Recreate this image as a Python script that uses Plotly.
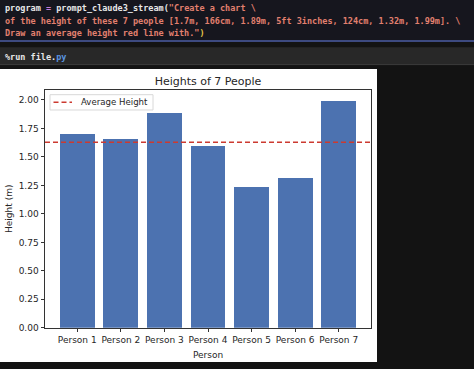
import plotly.graph_objects as go

# ---- data ----
people = ["Person 1", "Person 2", "Person 3", "Person 4", "Person 5", "Person 6", "Person 7"]
heights_m = [1.70, 1.66, 1.89, 1.6002, 1.24, 1.32, 1.99]
y_ticks = [0.00, 0.25, 0.50, 0.75, 1.00, 1.25, 1.50, 1.75, 2.00]
legend_label = "Average Height"
average_height = sum(heights_m) / len(heights_m)

W, H = 474, 369

def px_x(x):
    return x / W

def px_y(y):
    return 1 - y / H

BAR = "#4C72B0"
RED = "#cc3a30"
TXT = "#262626"
MONO = "DejaVu Sans Mono"
DASH = "5px,3px"
NB = "\u00a0"

idx = list(range(len(people)))
pad = 0.4 + 0.05 * (len(people) - 1 + 0.8)

fig = go.Figure()
fig.add_trace(go.Bar(x=idx, y=heights_m, width=0.8, marker=dict(color=BAR, line=dict(width=0)),
                     showlegend=False, name="Height"))

fig.add_hline(y=average_height, line=dict(color=RED, width=1.5, dash=DASH), name=legend_label)

shapes = [
    # code cell background
    dict(type="rect", xref="paper", yref="paper", x0=0, x1=1, y0=px_y(40.5), y1=1,
         fillcolor="#16161e", line=dict(width=0), layer="below"),
    # blue separator
    dict(type="line", xref="paper", yref="paper", x0=0, x1=1, y0=px_y(41.5), y1=px_y(41.5),
         line=dict(color="#4d5ea6", width=1.5), layer="below"),
    # %run cell
    dict(type="rect", xref="paper", yref="paper", x0=0, x1=1, y0=px_y(65.5), y1=px_y(48),
         fillcolor="#282828", line=dict(width=0), layer="below"),
    dict(type="line", xref="paper", yref="paper", x0=0, x1=1, y0=px_y(65.5), y1=px_y(65.5),
         line=dict(color="#3c3c3c", width=1), layer="below"),
    # white output image
    dict(type="rect", xref="paper", yref="paper", x0=0, x1=px_x(377), y0=px_y(367), y1=px_y(70),
         fillcolor="white", line=dict(width=0), layer="below"),
    # legend box
    dict(type="rect", xref="paper", yref="paper", x0=px_x(50), x1=px_x(153), y0=px_y(111.5),
         y1=px_y(96), fillcolor="rgba(255,255,255,0.85)", line=dict(color="#d8d8d8", width=1),
         layer="above"),
    # legend sample
    dict(type="line", xref="paper", yref="paper", x0=px_x(53.5), x1=px_x(72), y0=px_y(103.7),
         y1=px_y(103.7), line=dict(color=RED, width=1.5, dash=DASH), layer="above"),
]
for s in shapes:
    fig.add_shape(**s)

code_lines = [
    ("<span style='color:#e8e8e8'>program" + NB + "</span><span style='color:#c77ddb'>=</span>"
     "<span style='color:#e8e8e8'>" + NB + "prompt_claude3_stream(</span>"
     "<span style='color:#e2806f'>\"Create a chart \\</span>", 8.5),
    ("<span style='color:#e2806f'>of the height of these 7 people [1.7m, 166cm, 1.89m, 5ft 3inches, 124cm, 1.32m, 1.99m]. \\</span>", 20.8),
    ("<span style='color:#e2806f'>Draw an average height red line with.\"</span>"
     "<span style='color:#e8c547'>)</span>", 33.2),
    ("<span style='color:#e8e8e8'>%run file.</span><span style='color:#5b95e0'>py</span>", 57.5),
]
annotations = []
for txt, yy in code_lines:
    annotations.append(dict(text="<b>" + txt + "</b>", xref="paper", yref="paper",
                            x=px_x(2.5), y=px_y(yy), xanchor="left", yanchor="middle",
                            showarrow=False, font=dict(family=MONO, size=8.5)))

annotations.append(dict(text=legend_label, xref="paper", yref="paper", x=px_x(79),
                        y=px_y(103.7), xanchor="left", yanchor="middle", showarrow=False,
                        font=dict(family="DejaVu Sans", size=8.6, color=TXT)))

fig.update_layout(
    width=W, height=H,
    margin=dict(l=0, r=0, t=0, b=0),
    paper_bgcolor="#131313",
    plot_bgcolor="white",
    showlegend=False,
    font=dict(family="DejaVu Sans", size=9, color=TXT),
    title=dict(text="Heights of 7 People", x=px_x(208), y=px_y(82), xanchor="center",
               yanchor="middle", xref="paper", yref="paper",
               font=dict(family="DejaVu Sans", size=11, color=TXT)),
    xaxis=dict(domain=[px_x(45), px_x(371)], range=[-pad, len(people) - 1 + pad],
               tickmode="array", tickvals=idx, ticktext=people,
               showgrid=False, zeroline=False, showline=True, mirror=True,
               linecolor="#333333", linewidth=1, ticks="outside", ticklen=3.5,
               tickcolor="#333333", tickwidth=0.8,
               tickfont=dict(size=9, color=TXT),
               title=dict(text="Person", font=dict(size=9, color=TXT), standoff=7)),
    yaxis=dict(domain=[px_y(332.3), px_y(91)], range=[0, max(heights_m) * 1.05],
               tickmode="array", tickvals=y_ticks, tickformat=".2f",
               showgrid=False, zeroline=False, showline=True, mirror=True,
               linecolor="#333333", linewidth=1, ticks="outside", ticklen=3.5,
               tickcolor="#333333", tickwidth=0.8,
               tickfont=dict(size=9, color=TXT),
               title=dict(text="Height (m)", font=dict(size=9, color=TXT), standoff=4)),
    annotations=annotations,
    bargap=0,
)

fig.write_html("out.html", config={"displayModeBar": False},
               post_script="document.body.style.margin='0';document.body.style.overflow='hidden';"
                           "document.body.style.background='#131313';")
